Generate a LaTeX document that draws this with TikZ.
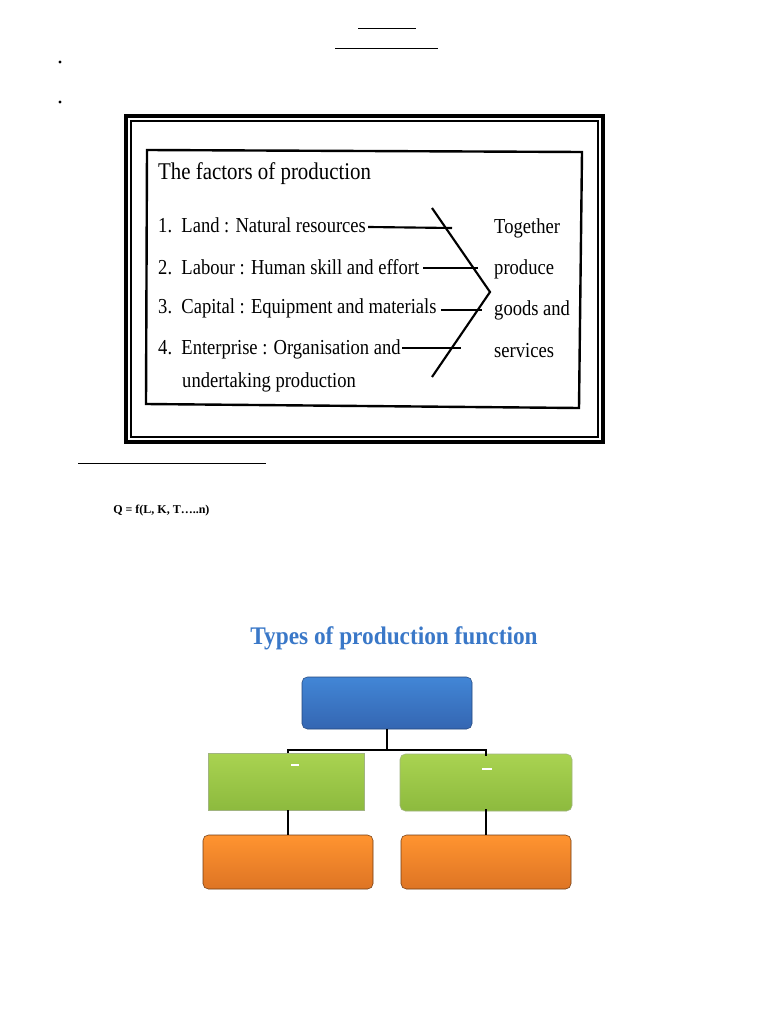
\documentclass[tikz,border=0pt]{standalone}
\usepackage{fontspec}
\setmainfont{Liberation Serif}
\definecolor{bt}{HTML}{4286D6}
\definecolor{bb}{HTML}{3466B2}
\definecolor{gt}{HTML}{A9D351}
\definecolor{gb}{HTML}{8DBA3E}
\definecolor{ot}{HTML}{FF9430}
\definecolor{ob}{HTML}{DE7424}
\definecolor{tt}{HTML}{3A78C8}
\begin{document}
\begin{tikzpicture}[x=0.75pt,y=-0.75pt,
  scan/.style={font=\fontsize{16}{18}\selectfont,anchor=west,inner sep=0pt,xscale=0.87},
  conn/.style={line width=1.6pt},
  tree/.style={line width=1pt},
  boxb/.style={draw=bb!70!black,rounded corners=4pt,top color=bt,bottom color=bb,minimum width=127.5pt,minimum height=39pt},
  boxg/.style={draw=gb!70!black!60,top color=gt,bottom color=gb,minimum height=42.75pt},
  boxo/.style={draw=ob!50!black,rounded corners=4pt,top color=ot,bottom color=ob,minimum width=127.5pt,minimum height=40.5pt}]
\useasboundingbox (0,0) rectangle (768,1024);
\fill[white] (0,0) rectangle (768,1024);
% header lines
\draw (358,28) -- (416,28);
\draw (335,48) -- (438,48);
\fill (60,62) circle (1.6);
\fill (60,102) circle (1.6);
% frame
\draw[line width=2.5pt] (126,116) rectangle (603,442);
\draw[line width=0.8pt] (131,121) rectangle (598,437);
\draw[line width=1.8pt] (147,150) -- (582,152) -- (579,408) -- (146,404) -- cycle;
\node[scan,font=\fontsize{18}{20}\selectfont] (title) at (158,174) {The factors of production};
\node[scan] (i1) at (158,225) {1.\ \ Land : Natural resources};
\node[scan] (i2) at (158,267) {2.\ \ Labour : Human skill and effort};
\node[scan] (i3) at (158,308) {3.\ \ Capital : Equipment and materials};
\node[scan] (i4) at (158,349) {4.\ \ Enterprise : Organisation and};
\node[scan] (i5) at (182,382) {undertaking production};
\node[scan] (t1) at (494,228) {Together};
\node[scan] (t2) at (494,269) {produce};
\node[scan] (t3) at (494,310) {goods and};
\node[scan] (t4) at (494,351) {services};
\coordinate (ct) at (432,208);
\coordinate (cm) at (490,292);
\coordinate (cb) at (432,377);
\draw[conn] (ct) -- (cm) -- (cb);
\draw[conn] (i1.east) ++(2,2) -- (452,228);
\draw[conn] (i2.east) ++(4,1) -- (478,268);
\draw[conn] (i3.east) ++(4,2) -- (482,310);
\draw[conn] (402,348) -- (461,348);
% underline and formula
\draw (78,463) -- (266,463);
\node[anchor=west,inner sep=0pt,font=\bfseries\fontsize{9}{11}\selectfont] (q) at (113,511) {Q = f(L, K, T…..n)};
% types
\node[font=\bfseries\fontsize{19}{22}\selectfont,text=tt,xscale=0.92] (types) at (394,638) {Types of production function};
\node[boxb] (top) at (387,703) {};
\node[boxg,minimum width=117pt] (gl) at (286,781.5) {};
\node[boxg,minimum width=129pt,rounded corners=4pt] (gr) at (486,782.5) {};
\node[boxo] (ol) at (288,862) {};
\node[boxo] (or) at (486,862) {};
\draw[white,line width=1.2pt] (291,765) -- (299,765);
\draw[white,line width=1.5pt] (482,769) -- (492,769);
\draw[tree] (top.south) -- (387,750) coordinate (j);
\draw[tree] (288,753) |- (j) -| (486,756);
\draw[tree] (288,810) -- (ol.north);
\draw[tree] (486,809) -- (or.north);
\end{tikzpicture}
\end{document}
